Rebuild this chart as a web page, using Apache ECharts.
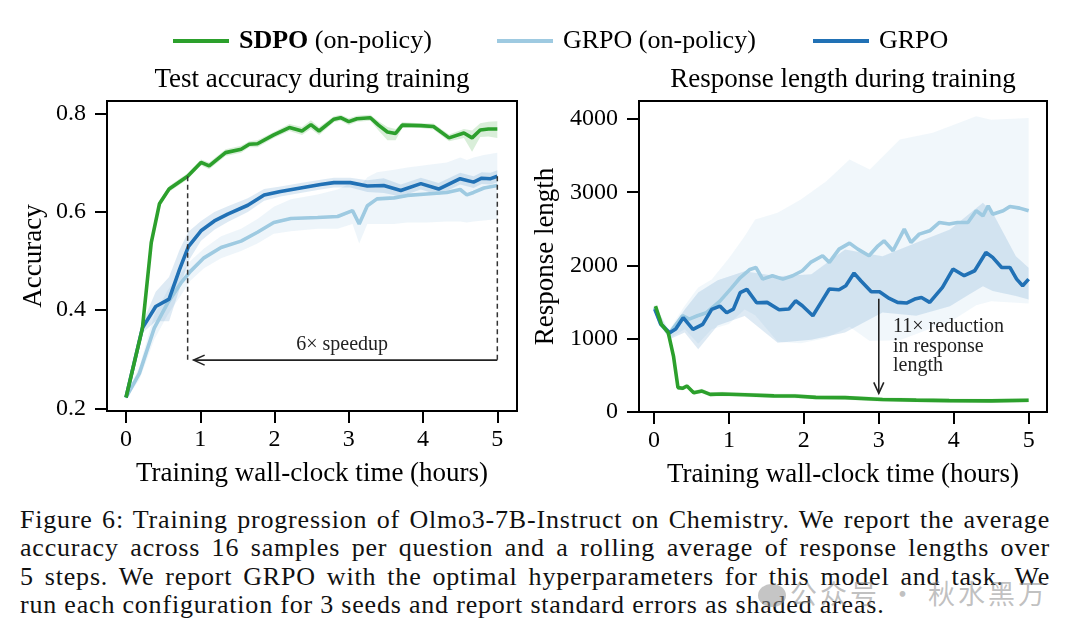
<!DOCTYPE html>
<html>
<head>
<meta charset="utf-8">
<title>Figure 6</title>
<script src="https://cdn.jsdelivr.net/npm/echarts@6/dist/echarts.min.js"></script>
<style>
  body { margin: 0; background: #fff; }
  #wrap { position: relative; width: 1080px; height: 636px; overflow: hidden; }
  #main { position: absolute; left: 0; top: 0; width: 1080px; height: 500px; }
  #caption { position: absolute; left: 20px; top: 506px; width: 1030px;
    font-family: 'Liberation Serif', 'DejaVu Serif', serif; font-size: 26px; letter-spacing: 0.8px;
    line-height: 28.3px; color: #111; }
  #caption div { text-align: justify; text-align-last: justify; white-space: nowrap; }
  #caption div.last { text-align-last: left; }
  #wm { position: absolute; left: 758px; top: 573px; color: rgba(140,140,140,0.55);
    font-family: 'Noto Sans CJK SC', sans-serif; font-size: 27px; letter-spacing: 3px; white-space: nowrap; }
  #wm i { display: inline-block; width: 28px; height: 23px; border-radius: 50%;
    background: rgba(150,150,150,0.55); vertical-align: -3px; margin-right: 4px; }
</style>
</head>
<body>
<div id="wrap">
  <div id="main"></div>
  <div id="caption">
    <div>Figure 6: Training progression of Olmo3-7B-Instruct on Chemistry. We report the average</div>
    <div>accuracy across 16 samples per question and a rolling average of response lengths over</div>
    <div>5 steps. We report GRPO with the optimal hyperparameters for this model and task. We</div>
    <div class="last">run each configuration for 3 seeds and report standard errors as shaded areas.</div>
  </div>
  <div id="wm"><i></i>公众号 · 秋水黑万</div>
</div>
<script>
var FONT = 'Liberation Serif, DejaVu Serif, serif';
var C_SDPO = '#2ca02c', C_GRPO = '#2171b5', C_GRPO_ON = '#9ecae1';

/* ===== left panel: test accuracy ===== */
var sdpoAccT = [0, 0.22, 0.34, 0.45, 0.58, 0.83, 1.01, 1.12, 1.34, 1.55, 1.66, 1.77, 1.99, 2.2, 2.37, 2.49, 2.6, 2.8, 2.89, 3.0, 3.11, 3.29, 3.4, 3.52, 3.63, 3.72, 3.97, 4.14, 4.35, 4.55, 4.66, 4.77, 4.88, 5.0];
var sdpoAcc   = [0.222, 0.362, 0.537, 0.616, 0.646, 0.672, 0.700, 0.693, 0.720, 0.727, 0.737, 0.738, 0.756, 0.771, 0.764, 0.777, 0.764, 0.788, 0.791, 0.783, 0.789, 0.791, 0.776, 0.762, 0.759, 0.776, 0.775, 0.773, 0.750, 0.760, 0.750, 0.766, 0.768, 0.768];
var sdpoAccHi = [0.225, 0.368, 0.543, 0.622, 0.652, 0.678, 0.706, 0.700, 0.727, 0.734, 0.743, 0.745, 0.762, 0.778, 0.772, 0.786, 0.772, 0.794, 0.797, 0.790, 0.795, 0.797, 0.784, 0.772, 0.768, 0.782, 0.780, 0.779, 0.757, 0.768, 0.765, 0.780, 0.783, 0.784];
var sdpoAccLo = [0.219, 0.356, 0.531, 0.610, 0.640, 0.666, 0.694, 0.686, 0.713, 0.720, 0.731, 0.731, 0.750, 0.764, 0.756, 0.768, 0.756, 0.782, 0.785, 0.776, 0.783, 0.785, 0.765, 0.745, 0.745, 0.770, 0.770, 0.767, 0.743, 0.750, 0.722, 0.752, 0.753, 0.750];

var grpoAccT = [0, 0.22, 0.4, 0.58, 0.72, 0.84, 1.01, 1.19, 1.37, 1.64, 1.86, 2.08, 2.35, 2.62, 2.8, 3.02, 3.25, 3.47, 3.7, 3.97, 4.21, 4.5, 4.68, 4.79, 4.91, 5.0];
var grpoAcc   = [0.222, 0.363, 0.407, 0.422, 0.482, 0.529, 0.561, 0.581, 0.595, 0.613, 0.634, 0.641, 0.648, 0.655, 0.659, 0.659, 0.652, 0.653, 0.643, 0.657, 0.646, 0.667, 0.660, 0.668, 0.667, 0.672];
var grpoAccHi = [0.226, 0.373, 0.437, 0.467, 0.522, 0.559, 0.581, 0.599, 0.611, 0.627, 0.646, 0.651, 0.658, 0.665, 0.669, 0.669, 0.664, 0.668, 0.655, 0.669, 0.658, 0.679, 0.672, 0.680, 0.679, 0.684];
var grpoAccLo = [0.218, 0.353, 0.377, 0.377, 0.442, 0.499, 0.541, 0.563, 0.579, 0.599, 0.622, 0.631, 0.638, 0.645, 0.649, 0.649, 0.640, 0.638, 0.631, 0.645, 0.634, 0.655, 0.648, 0.656, 0.655, 0.660];

var grpoOnAccT = [0, 0.18, 0.38, 0.56, 0.74, 0.87, 1.05, 1.28, 1.55, 1.77, 1.99, 2.22, 2.58, 2.85, 3.05, 3.14, 3.25, 3.38, 3.61, 3.79, 4.05, 4.32, 4.5, 4.59, 4.68, 4.82, 5.0];
var grpoOnAcc   = [0.222, 0.271, 0.363, 0.414, 0.455, 0.479, 0.506, 0.527, 0.540, 0.558, 0.578, 0.586, 0.588, 0.590, 0.602, 0.575, 0.612, 0.626, 0.628, 0.633, 0.636, 0.639, 0.645, 0.634, 0.639, 0.648, 0.653];
var grpoOnAccHi = [0.225, 0.285, 0.39, 0.44, 0.475, 0.50, 0.525, 0.55, 0.565, 0.585, 0.61, 0.625, 0.635, 0.645, 0.66, 0.65, 0.67, 0.68, 0.685, 0.69, 0.695, 0.70, 0.71, 0.705, 0.71, 0.715, 0.72];
var grpoOnAccLo = [0.219, 0.258, 0.34, 0.39, 0.43, 0.46, 0.485, 0.505, 0.52, 0.535, 0.555, 0.56, 0.565, 0.565, 0.575, 0.535, 0.575, 0.575, 0.575, 0.578, 0.578, 0.58, 0.58, 0.578, 0.58, 0.582, 0.585];

/* ===== right panel: response length ===== */
var sdpoLenT = [0.02, 0.1, 0.19, 0.26, 0.32, 0.38, 0.44, 0.53, 0.64, 0.75, 0.91, 1.21, 1.6, 1.88, 2.16, 2.55, 3.05, 3.5, 3.94, 4.5, 5.0];
var sdpoLen  = [1445, 1196, 1082, 763, 333, 323, 355, 264, 286, 241, 245, 235, 220, 218, 200, 196, 170, 162, 155, 152, 160];
var sdpoLenHi = sdpoLen.map(function (v) { return v + 30; });
var sdpoLenLo = sdpoLen.map(function (v) { return v - 30; });

var grpoLenT = [0.01, 0.09, 0.21, 0.29, 0.39, 0.52, 0.65, 0.77, 0.88, 0.97, 1.06, 1.15, 1.24, 1.37, 1.51, 1.67, 1.8, 1.89, 1.98, 2.12, 2.23, 2.34, 2.47, 2.56, 2.67, 2.76, 2.9, 3.01, 3.14, 3.25, 3.37, 3.48, 3.57, 3.68, 3.85, 3.99, 4.14, 4.28, 4.43, 4.52, 4.64, 4.75, 4.84, 4.92, 5.0];
var grpoLen  = [1405, 1200, 1082, 1132, 1287, 1127, 1196, 1400, 1445, 1355, 1405, 1628, 1673, 1491, 1496, 1396, 1405, 1518, 1450, 1314, 1496, 1678, 1669, 1723, 1896, 1791, 1641, 1641, 1550, 1496, 1487, 1541, 1564, 1496, 1700, 1951, 1860, 1928, 2178, 2110, 1973, 1973, 1814, 1723, 1814];
var grpoLenBandT = [0.01, 0.2, 0.41, 0.59, 0.85, 1.21, 1.65, 2.1, 2.55, 3.05, 3.5, 3.95, 4.2, 4.39, 4.52, 4.83, 5.0];
var grpoLenHi    = [1460, 1100, 1400, 1630, 1800, 1922, 1854, 1880, 2218, 2127, 2309, 2490, 2700, 2855, 2718, 2127, 1968];
var grpoLenLo    = [1350, 990, 1085, 855, 1180, 1310, 946, 987, 1086, 1359, 1313, 1445, 1600, 1718, 1650, 1582, 1536];

var grpoOnLenT = [0.01, 0.09, 0.2, 0.38, 0.47, 0.58, 0.7, 0.88, 1.03, 1.15, 1.28, 1.36, 1.45, 1.58, 1.72, 1.85, 1.98, 2.09, 2.25, 2.34, 2.47, 2.61, 2.72, 2.87, 2.99, 3.07, 3.19, 3.34, 3.43, 3.54, 3.68, 3.81, 3.94, 4.05, 4.19, 4.3, 4.39, 4.46, 4.52, 4.66, 4.75, 4.88, 5.0];
var grpoOnLen  = [1430, 1200, 1063, 1314, 1268, 1314, 1355, 1513, 1687, 1832, 1946, 1973, 1814, 1860, 1814, 1860, 1928, 2042, 2133, 2042, 2223, 2305, 2223, 2133, 2269, 2337, 2201, 2496, 2314, 2428, 2473, 2587, 2565, 2587, 2587, 2746, 2678, 2815, 2700, 2746, 2806, 2783, 2746];
var grpoOnLenBandT = [0.01, 0.2, 0.41, 0.59, 0.77, 1.0, 1.21, 1.35, 1.65, 1.96, 2.3, 2.61, 2.88, 3.28, 3.72, 3.95, 4.3, 4.5, 5.0];
var grpoOnLenHi    = [1460, 1120, 1450, 1700, 1809, 2100, 2400, 2627, 2718, 2900, 3150, 3445, 3309, 3718, 3813, 3899, 4036, 3990, 4013];
var grpoOnLenLo    = [1380, 1000, 1130, 930, 1130, 1200, 1400, 1320, 960, 940, 1010, 1165, 970, 980, 1150, 1230, 1456, 1510, 1480];

/* ticks */
var hourTicks = [0, 1, 2, 3, 4, 5];
var accTicks = [0.2, 0.4, 0.6, 0.8];
var lenTicks = [0, 1000, 2000, 3000, 4000];

/* annotations (data coords) */
var speedupTop = 0.672, speedupY = 0.298, speedupFrom = 5.0, speedupTo = 0.83;
var reductionX = 3.0, reductionFrom = 1546, reductionTo = 255;

function pairs(t, v) {
  return t.map(function (x, i) { return [x, v[i]]; });
}

function lineSeries(gi, name, t, v, color) {
  return {
    type: 'line', name: name, xAxisIndex: gi, yAxisIndex: gi,
    data: pairs(t, v), color: color, showSymbol: false, z: 3,
    lineStyle: { width: 3.6, color: color }, emphasis: { disabled: true }
  };
}

function bandSeries(gi, t, lo, hi, color, opacity) {
  return {
    type: 'custom', xAxisIndex: gi, yAxisIndex: gi, silent: true, z: 1,
    data: pairs(t, lo),
    renderItem: function (params, api) {
      if (params.dataIndex !== 0) return null;
      var pts = [];
      for (var i = 0; i < t.length; i++) pts.push(api.coord([t[i], hi[i]]));
      for (var j = t.length - 1; j >= 0; j--) pts.push(api.coord([t[j], lo[j]]));
      return { type: 'polygon', shape: { points: pts }, style: { fill: color, opacity: opacity } };
    }
  };
}

var annLeft = {
  type: 'custom', xAxisIndex: 0, yAxisIndex: 0, silent: true, z: 5, clip: false,
  data: [[speedupFrom, speedupY]],
  renderItem: function (params, api) {
    var a = api.coord([speedupTo, speedupTop]), b = api.coord([speedupTo, speedupY]);
    var c = api.coord([speedupFrom, speedupTop]), d = api.coord([speedupFrom, speedupY]);
    var tip = [b[0] + 6, b[1]];
    var dash = { stroke: '#333', lineWidth: 1.5, lineDash: [5, 3.5] };
    var solid = { stroke: '#222', lineWidth: 1.6, fill: null };
    var t = api.coord([2.91, 0.329]);
    return { type: 'group', children: [
      { type: 'line', shape: { x1: a[0], y1: a[1], x2: b[0], y2: b[1] }, style: dash },
      { type: 'line', shape: { x1: c[0], y1: c[1], x2: d[0], y2: d[1] }, style: dash },
      { type: 'line', shape: { x1: d[0], y1: d[1], x2: tip[0], y2: tip[1] }, style: solid },
      { type: 'polyline', shape: { points: [[tip[0] + 11, tip[1] - 5], tip, [tip[0] + 11, tip[1] + 5]] }, style: solid },
      { type: 'text', x: t[0], y: t[1], style: { text: '6× speedup', fontSize: 20, fontFamily: FONT, fill: '#222', align: 'center', verticalAlign: 'middle' } }
    ] };
  }
};

var annRight = {
  type: 'custom', xAxisIndex: 1, yAxisIndex: 1, silent: true, z: 5, clip: false,
  data: [[reductionX, reductionFrom]],
  renderItem: function (params, api) {
    var a = api.coord([reductionX, reductionFrom]), b = api.coord([reductionX, reductionTo]);
    var solid = { stroke: '#222', lineWidth: 1.6, fill: null };
    var t = api.coord([3.19, 1291]);
    return { type: 'group', children: [
      { type: 'line', shape: { x1: a[0], y1: a[1], x2: b[0], y2: b[1] }, style: solid },
      { type: 'polyline', shape: { points: [[b[0] - 5, b[1] - 11], b, [b[0] + 5, b[1] - 11]] }, style: solid },
      { type: 'text', x: t[0], y: t[1], style: { text: '11× reduction\nin response\nlength', fontSize: 20, lineHeight: 19.5, fontFamily: FONT, fill: '#222', align: 'left', verticalAlign: 'top' } }
    ] };
  }
};

function xAxisOf(gi, min, max) {
  return {
    gridIndex: gi, type: 'value', min: min, max: max,
    axisLine: { show: true, onZero: false, lineStyle: { color: '#000', width: 2 } },
    axisTick: { show: true, customValues: hourTicks, length: 12, lineStyle: { color: '#000', width: 2 } },
    axisLabel: { customValues: hourTicks, fontSize: 24, fontFamily: FONT, color: '#000', margin: 17 },
    splitLine: { show: false },
    name: 'Training wall-clock time (hours)', nameLocation: 'middle', nameGap: 49,
    nameTextStyle: { fontSize: 27, fontFamily: FONT, color: '#000' }
  };
}

function yAxisOf(gi, min, max, ticks, name, gap, fmt) {
  return {
    gridIndex: gi, type: 'value', min: min, max: max,
    axisLine: { show: true, onZero: false, lineStyle: { color: '#000', width: 2 } },
    axisTick: { show: true, customValues: ticks, length: 12, lineStyle: { color: '#000', width: 2 } },
    axisLabel: { customValues: ticks, formatter: fmt, fontSize: 24, fontFamily: FONT, color: '#000', margin: 21 },
    splitLine: { show: false },
    name: name, nameLocation: 'middle', nameGap: gap,
    nameTextStyle: { fontSize: 27, fontFamily: FONT, color: '#000' }
  };
}

var legendBase = {
  icon: 'rect', itemWidth: 56, itemHeight: 4, top: 23, selectedMode: false,
  textStyle: { fontSize: 26, fontFamily: FONT, color: '#000', padding: [0, 0, 0, 5],
    rich: { b: { fontSize: 26, fontFamily: FONT, fontWeight: 'bold', color: '#000' } } },
  formatter: function (n) { return n === 'SDPO (on-policy)' ? '{b|SDPO} (on-policy)' : n; }
};

var myChart = echarts.init(document.getElementById('main'));
var option = {
  animation: false,
  legend: [
    Object.assign({}, legendBase, { left: 168, data: ['SDPO (on-policy)'] }),
    Object.assign({}, legendBase, { left: 492, data: ['GRPO (on-policy)'] }),
    Object.assign({}, legendBase, { left: 808, data: ['GRPO'] })
  ],
  graphic: [
    { type: 'text', x: 312, y: 80, style: { text: 'Test accuracy during training', fontSize: 27, fontFamily: FONT, fill: '#000', align: 'center', verticalAlign: 'middle' } },
    { type: 'text', x: 843, y: 80, style: { text: 'Response length during training', fontSize: 27, fontFamily: FONT, fill: '#000', align: 'center', verticalAlign: 'middle' } }
  ],
  grid: [
    { left: 107, top: 101, width: 410, height: 310, show: true, borderColor: '#000', borderWidth: 2, backgroundColor: 'transparent' },
    { left: 639, top: 101, width: 408, height: 311, show: true, borderColor: '#000', borderWidth: 2, backgroundColor: 'transparent' }
  ],
  xAxis: [xAxisOf(0, -0.256, 5.265), xAxisOf(1, -0.2, 5.245)],
  yAxis: [
    yAxisOf(0, 0.1945, 0.825, accTicks, 'Accuracy', 60, function (v) { return v.toFixed(1); }),
    yAxisOf(1, 0, 4245, lenTicks, 'Response length', 80, function (v) { return String(Math.round(v)); })
  ],
  series: [
    bandSeries(0, grpoOnAccT, grpoOnAccLo, grpoOnAccHi, C_GRPO_ON, 0.18),
    bandSeries(0, grpoAccT, grpoAccLo, grpoAccHi, C_GRPO, 0.15),
    bandSeries(0, sdpoAccT, sdpoAccLo, sdpoAccHi, C_SDPO, 0.18),
    lineSeries(0, 'GRPO (on-policy)', grpoOnAccT, grpoOnAcc, C_GRPO_ON),
    lineSeries(0, 'GRPO', grpoAccT, grpoAcc, C_GRPO),
    lineSeries(0, 'SDPO (on-policy)', sdpoAccT, sdpoAcc, C_SDPO),
    annLeft,
    bandSeries(1, grpoOnLenBandT, grpoOnLenLo, grpoOnLenHi, C_GRPO_ON, 0.15),
    bandSeries(1, grpoLenBandT, grpoLenLo, grpoLenHi, C_GRPO, 0.15),
    bandSeries(1, sdpoLenT, sdpoLenLo, sdpoLenHi, C_SDPO, 0.15),
    lineSeries(1, 'GRPO (on-policy)', grpoOnLenT, grpoOnLen, C_GRPO_ON),
    lineSeries(1, 'GRPO', grpoLenT, grpoLen, C_GRPO),
    lineSeries(1, 'SDPO (on-policy)', sdpoLenT, sdpoLen, C_SDPO),
    annRight
  ]
};
myChart.setOption(option);
</script>
</body>
</html>
